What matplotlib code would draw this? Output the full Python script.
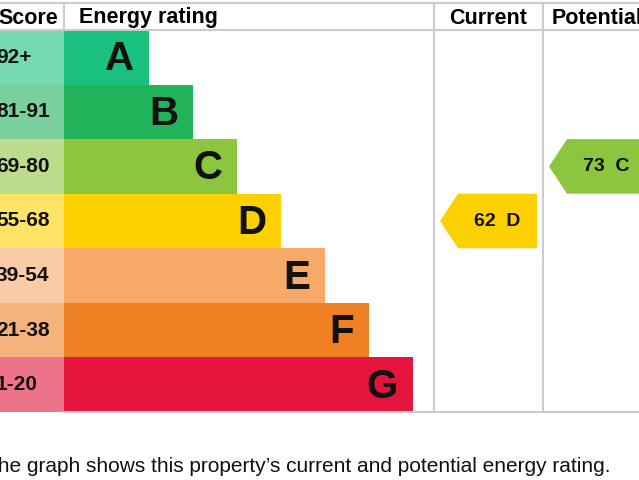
import matplotlib
matplotlib.use("Agg")
import matplotlib.pyplot as plt
from matplotlib.patches import Polygon

bands = ['A', 'B', 'C', 'D', 'E', 'F', 'G']
score_ranges = ['92+', '81-91', '69-80', '55-68', '39-54', '21-38', '1-20']
band_colors = ['#19c07e', '#21b25a', '#8cc63e', '#fdd100', '#f7a96a', '#ef8023', '#e4143c']
headers = ['Score', 'Energy rating', 'Current', 'Potential']
current_score, current_band = 62, 'D'
potential_score, potential_band = 73, 'C'
footnote = 'The graph shows this property\u2019s current and potential energy rating.'

plt.rcParams['font.family'] = ['Liberation Sans', 'DejaVu Sans']

fig = plt.figure(figsize=(6.39, 4.80), dpi=100)
ax = fig.add_axes([0, 0, 1, 1])
ax.set_xlim(0, 639)
ax.set_ylim(480, 0)
ax.axis('off')

# table layout (pixels)
top, head_bot, bot = 3, 30, 412
row_h = (bot - head_bot) / len(bands)
score_l, bar_l = -45, 64
cur_l, pot_l, pot_r = 434, 543, 652
rows = [head_bot + row_h * (i + 0.5) for i in range(len(bands))]
widths = [85 + 44 * i for i in range(len(bands))]

# score column, lighter shade of the band colour
ax.barh(rows, bar_l - score_l, left=score_l, height=row_h, color=band_colors,
        alpha=0.6, linewidth=0)
# rating bars
ax.barh(rows, widths, left=bar_l, height=row_h, color=band_colors, linewidth=0)

for y, w, b, s in zip(rows, widths, bands, score_ranges):
    ax.text(bar_l + w - 15, y + 2, b, ha='right', va='center', fontsize=29,
            fontweight='bold', color='#111111')
    ax.text(-4, y, s, ha='left', va='center', fontsize=15, fontweight='bold',
            color='#111111')

# grid lines
lc = '#cccccc'
ax.plot([-10, 660], [top, top], color=lc, lw=1.5)
ax.plot([-10, 660], [head_bot, head_bot], color=lc, lw=1.5)
ax.plot([bar_l, 660], [bot, bot], color=lc, lw=1.5)
ax.plot([bar_l, bar_l], [top, head_bot], color=lc, lw=1.5)
for x in (cur_l, pot_l):
    ax.plot([x, x], [top, bot], color=lc, lw=1.5)

# headers
hy = 18
hfs = 15.5
ax.text(-2, hy, headers[0], ha='left', va='center', fontsize=hfs, fontweight='bold')
ax.text(79, hy, headers[1], ha='left', va='center', fontsize=hfs, fontweight='bold')
ax.text((cur_l + pot_l) / 2, hy, headers[2], ha='center', va='center', fontsize=hfs,
        fontweight='bold')
ax.text((pot_l + pot_r) / 2, hy, headers[3], ha='center', va='center', fontsize=hfs,
        fontweight='bold')


def rating_arrow(score, band, col_l, col_r):
    i = bands.index(band)
    y0, y1 = head_bot + row_h * i, head_bot + row_h * (i + 1)
    tip, right = col_l + 6, col_r - 6
    notch = tip + 18
    pts = [(tip, (y0 + y1) / 2), (notch, y0), (right, y0), (right, y1), (notch, y1)]
    ax.add_patch(Polygon(pts, closed=True, color=band_colors[i], linewidth=0))
    ax.text((notch + right) / 2, (y0 + y1) / 2, f'{score}  {band}', ha='center',
            va='center', fontsize=14, fontweight='bold', color='#111111')


rating_arrow(current_score, current_band, cur_l, pot_l)
rating_arrow(potential_score, potential_band, pot_l, pot_r)

ax.text(-15, 466, footnote, ha='left', va='center', fontsize=15.0, color='#111111')

fig.savefig('out.png', dpi=100)
